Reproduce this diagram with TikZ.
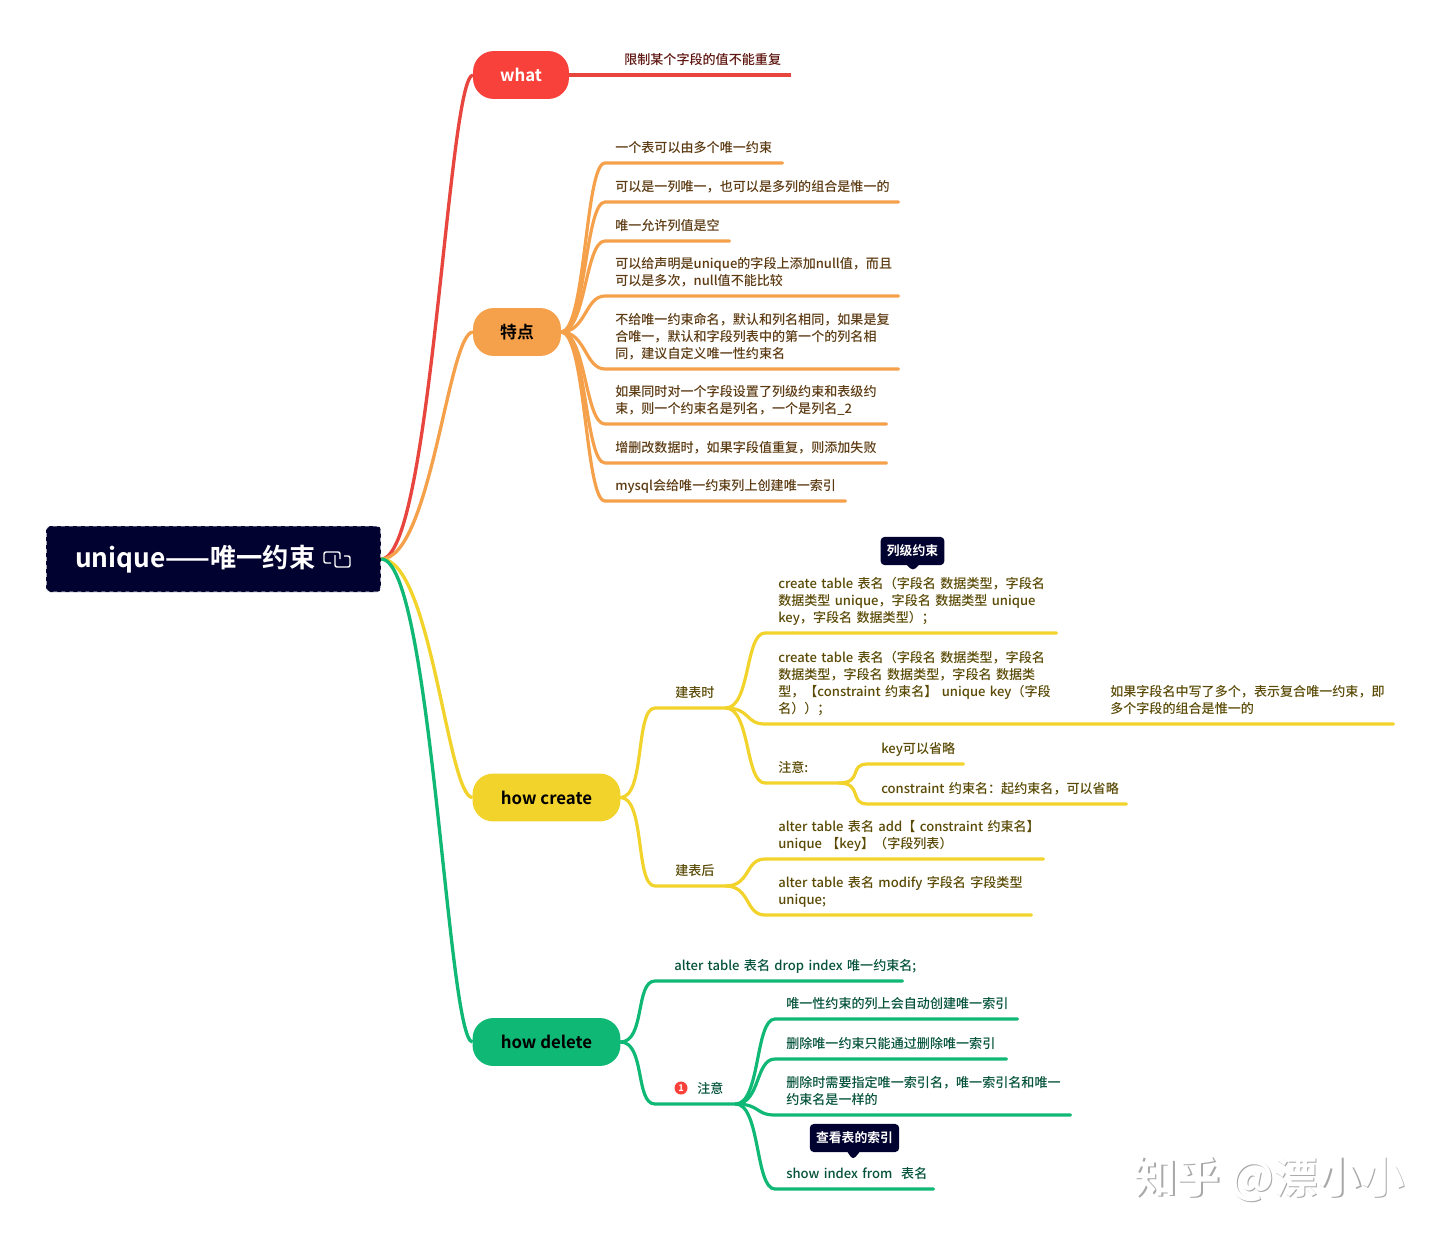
\documentclass[tikz,border=0pt]{standalone}
\usepackage{fontspec}
\setmainfont{Noto Sans CJK SC}[UprightFont=* Medium, BoldFont=* Bold]
\usepackage[HTML]{xcolor}
\usetikzlibrary{shapes.callouts}
\definecolor{rootblue}{HTML}{020230}
\definecolor{redline}{HTML}{E8453F}
\definecolor{redfill}{HTML}{F9413B}
\definecolor{redtext}{HTML}{5E1510}
\definecolor{orangeline}{HTML}{F5A04A}
\definecolor{orangetext}{HTML}{5C3A12}
\definecolor{yellowline}{HTML}{F2D32B}
\definecolor{yellowtext}{HTML}{5A4A05}
\definecolor{greenline}{HTML}{0FB874}
\definecolor{greentext}{HTML}{04523A}

\begin{document}
\begin{tikzpicture}[
  x=0.75pt, y=-0.75pt,
  every node/.style={align=left, font=\fontsize{9.8}{12.75}\selectfont},
  pill/.style={draw, line width=0.9pt, rounded corners=15pt, minimum height=35pt, inner sep=0pt, font=\fontsize{12.6}{15}\selectfont\bfseries},
  leaf/.style 2 args={anchor=south west, inner xsep=0pt, inner ysep=4.5pt, text width=(#1)*0.75pt, execute at begin node={\leftskip=\dimexpr #2pt*3/4\relax}, execute at end node={\rule[-3pt]{0pt}{0pt}}},
  bubble/.style={rectangle callout, fill=rootblue, text=white, rounded corners=3pt, inner xsep=4.7pt, inner ysep=6pt, font=\fontsize{9.6}{12}\selectfont\bfseries, callout pointer width=9pt},
  rootlink/.style={line width=2.5pt, to path={.. controls +(50,0) and +(-25,0) .. (\tikztotarget)}},
  sublink/.style={line width=2.4pt, line cap=round, to path={.. controls +(25,0) and +(-20,0) .. (\tikztotarget)}},
  ]

\useasboundingbox (0,0) rectangle (1440,1236);

\node[fill=rootblue, draw=white, dashed, line width=0.6pt, rounded corners=3pt, minimum width=251pt, minimum height=49.5pt, inner sep=0pt] (root) at (213.5,559) {};
\node[text=white, anchor=west, inner sep=0pt, font=\fontsize{19.7}{22}\selectfont\bfseries] (title) at (75,559) {unique——唯一约束};

% first level
\node[pill, fill=redfill, draw=redfill, text=white, minimum width=71pt] (what) at (521,75) {what};
\node[pill, fill=orangeline, draw=orangeline, text=black, minimum width=65pt] (feature) at (517,332) {特点};
\node[pill, fill=yellowline, draw=yellowline, text=black, minimum width=110pt] (create) at (546.5,797.5) {how create};
\node[pill, fill=greenline, draw=greenline, text=black, minimum width=110pt] (delete) at (546.5,1042) {how delete};

% what
\node[leaf={175}{9}, text=redtext] (w1) at (615,75) {限制某个字段的值不能重复};

% feature
\node[leaf={177}{10}, text=orangetext] (f1) at (605,163) {一个表可以由多个唯一约束};
\node[leaf={293}{10}, text=orangetext] (f2) at (605,202) {可以是一列唯一，也可以是多列的组合是惟一的};
\node[leaf={124}{10}, text=orangetext] (f3) at (605,241) {唯一允许列值是空};
\node[leaf={293}{10}, text=orangetext] (f4) at (605,296) {可以给声明是unique的字段上添加null值，而且\\可以是多次，null值不能比较};
\node[leaf={293}{10}, text=orangetext] (f5) at (605,369) {不给唯一约束命名，默认和列名相同，如果是复\\合唯一，默认和字段列表中的第一个的列名相\\同，建议自定义唯一性约束名};
\node[leaf={281}{10}, text=orangetext] (f6) at (605,424) {如果同时对一个字段设置了列级约束和表级约\\束，则一个约束名是列名，一个是列名\_2};
\node[leaf={281}{10}, text=orangetext] (f7) at (605,463) {增删改数据时，如果字段值重复，则添加失败};
\node[leaf={240}{10}, text=orangetext] (f8) at (605,501) {mysql会给唯一约束列上创建唯一索引};

% create
\node[leaf={70}{20}, text=yellowtext] (before) at (655,708) {建表时};
\node[leaf={70}{20}, text=yellowtext] (after) at (655,886) {建表后};
\node[leaf={291}{13}, text=yellowtext] (b1) at (765,633) {create table 表名（字段名 数据类型，字段名\\数据类型 unique，字段名 数据类型 unique\\key，字段名 数据类型）；};
\node[leaf={291}{13}, text=yellowtext] (b2) at (765,724) {create table 表名（字段名 数据类型，字段名\\数据类型，字段名 数据类型，字段名 数据类\\型，【constraint 约束名】 unique key（字段\\名））；};
\node[leaf={293}{10}, text=yellowtext] (b2a) at (1100,724) {如果字段名中写了多个，表示复合唯一约束，即\\多个字段的组合是惟一的};
\node[leaf={73}{13}, text=yellowtext] (b3) at (765,783) {注意:};
\node[leaf={95}{13}, text=yellowtext] (b3a) at (868,764) {key可以省略};
\node[leaf={258}{13}, text=yellowtext] (b3b) at (868,804) {constraint 约束名：起约束名，可以省略};
\node[leaf={278}{13}, text=yellowtext] (a1) at (765,859) {alter table 表名 add【 constraint 约束名】\\unique 【key】（字段列表）};
\node[leaf={266}{13}, text=yellowtext] (a2) at (765,915) {alter table 表名 modify 字段名 字段类型\\unique;};

% delete
\node[leaf={247}{19}, text=greentext] (d1) at (655,981) {\mbox{alter table 表名 drop index 唯一约束名;}};
\node[leaf={80}{42}, text=greentext] (note) at (655,1104) {注意};
\node[circle, fill=redfill, text=white, inner sep=0pt, minimum size=9.75pt, font=\fontsize{7}{7}\selectfont\bfseries] (noteicon) at (681,1088) {1};
\node[leaf={242}{11}, text=greentext] (n1) at (775,1019) {唯一性约束的列上会自动创建唯一索引};
\node[leaf={231}{11}, text=greentext] (n2) at (775,1059) {删除唯一约束只能通过删除唯一索引};
\node[leaf={295}{11}, text=greentext] (n3) at (775,1115) {删除时需要指定唯一索引名，唯一索引名和唯一\\约束名是一样的};
\node[leaf={158}{11}, text=greentext] (n4) at (775,1189) {show index from\ \ 表名};

% bubbles
\node[bubble, callout absolute pointer={(913,571)}] (columnnote) at (912.5,551) {列级约束};
\node[bubble, callout absolute pointer={(853,1160)}] (indexnote) at (854.5,1138) {查看表的索引};

% watermark
\node[text=black!34, font=\fontsize{32.6}{34}\selectfont\bfseries, inner sep=0pt] (markshadow) at (1270.5,1180) {知乎 @漂小小};
\node[text=white, font=\fontsize{32.6}{34}\selectfont\bfseries, inner sep=0pt] (mark) at (1269,1179) {知乎 @漂小小};

% link icon in the root
\draw[white, line width=1.1pt, rounded corners=1.5pt] (340,559) -- (340,552) -- (324,552) -- (324,563) -- (331,563);
\draw[white, line width=1.1pt, rounded corners=1.5pt] (335,555) -- (335,567) -- (350,567) -- (350,556) -- (344,556);

% root links
\draw[redline, rootlink] (root.east) to (what.west);
\draw[orangeline, rootlink] (root.east) to (feature.west);
\draw[yellowline, rootlink] (root.east) to (create.west);
\draw[greenline, rootlink] (root.east) to (delete.west);

% second level links
\draw[redline, line width=2.4pt] (what.east) -- (w1.south west) -- (w1.south east);
\draw[orangeline, sublink] (feature.east) to (f1.south west) -- (f1.south east);
\draw[orangeline, sublink] (feature.east) to (f2.south west) -- (f2.south east);
\draw[orangeline, sublink] (feature.east) to (f3.south west) -- (f3.south east);
\draw[orangeline, sublink] (feature.east) to (f4.south west) -- (f4.south east);
\draw[orangeline, sublink] (feature.east) to (f5.south west) -- (f5.south east);
\draw[orangeline, sublink] (feature.east) to (f6.south west) -- (f6.south east);
\draw[orangeline, sublink] (feature.east) to (f7.south west) -- (f7.south east);
\draw[orangeline, sublink] (feature.east) to (f8.south west) -- (f8.south east);

\draw[yellowline, sublink] (create.east) to (before.south west) -- (before.south east);
\draw[yellowline, sublink] (create.east) to (after.south west) -- (after.south east);
\draw[yellowline, sublink] (before.south east) to (b1.south west) -- (b1.south east);
\draw[yellowline, sublink] (before.south east) to (b2.south west) -- (b2.south east) -- (b2a.south west) -- (b2a.south east);
\draw[yellowline, sublink] (before.south east) to (b3.south west) -- (b3.south east);
\draw[yellowline, sublink] (b3.south east) to (b3a.south west) -- (b3a.south east);
\draw[yellowline, sublink] (b3.south east) to (b3b.south west) -- (b3b.south east);
\draw[yellowline, sublink] (after.south east) to (a1.south west) -- (a1.south east);
\draw[yellowline, sublink] (after.south east) to (a2.south west) -- (a2.south east);

\draw[greenline, sublink] (delete.east) to (d1.south west) -- (d1.south east);
\draw[greenline, sublink] (delete.east) to (note.south west) -- (note.south east);
\draw[greenline, sublink] (note.south east) to (n1.south west) -- (n1.south east);
\draw[greenline, sublink] (note.south east) to (n2.south west) -- (n2.south east);
\draw[greenline, sublink] (note.south east) to (n3.south west) -- (n3.south east);
\draw[greenline, sublink] (note.south east) to (n4.south west) -- (n4.south east);
\end{tikzpicture}
\end{document}
